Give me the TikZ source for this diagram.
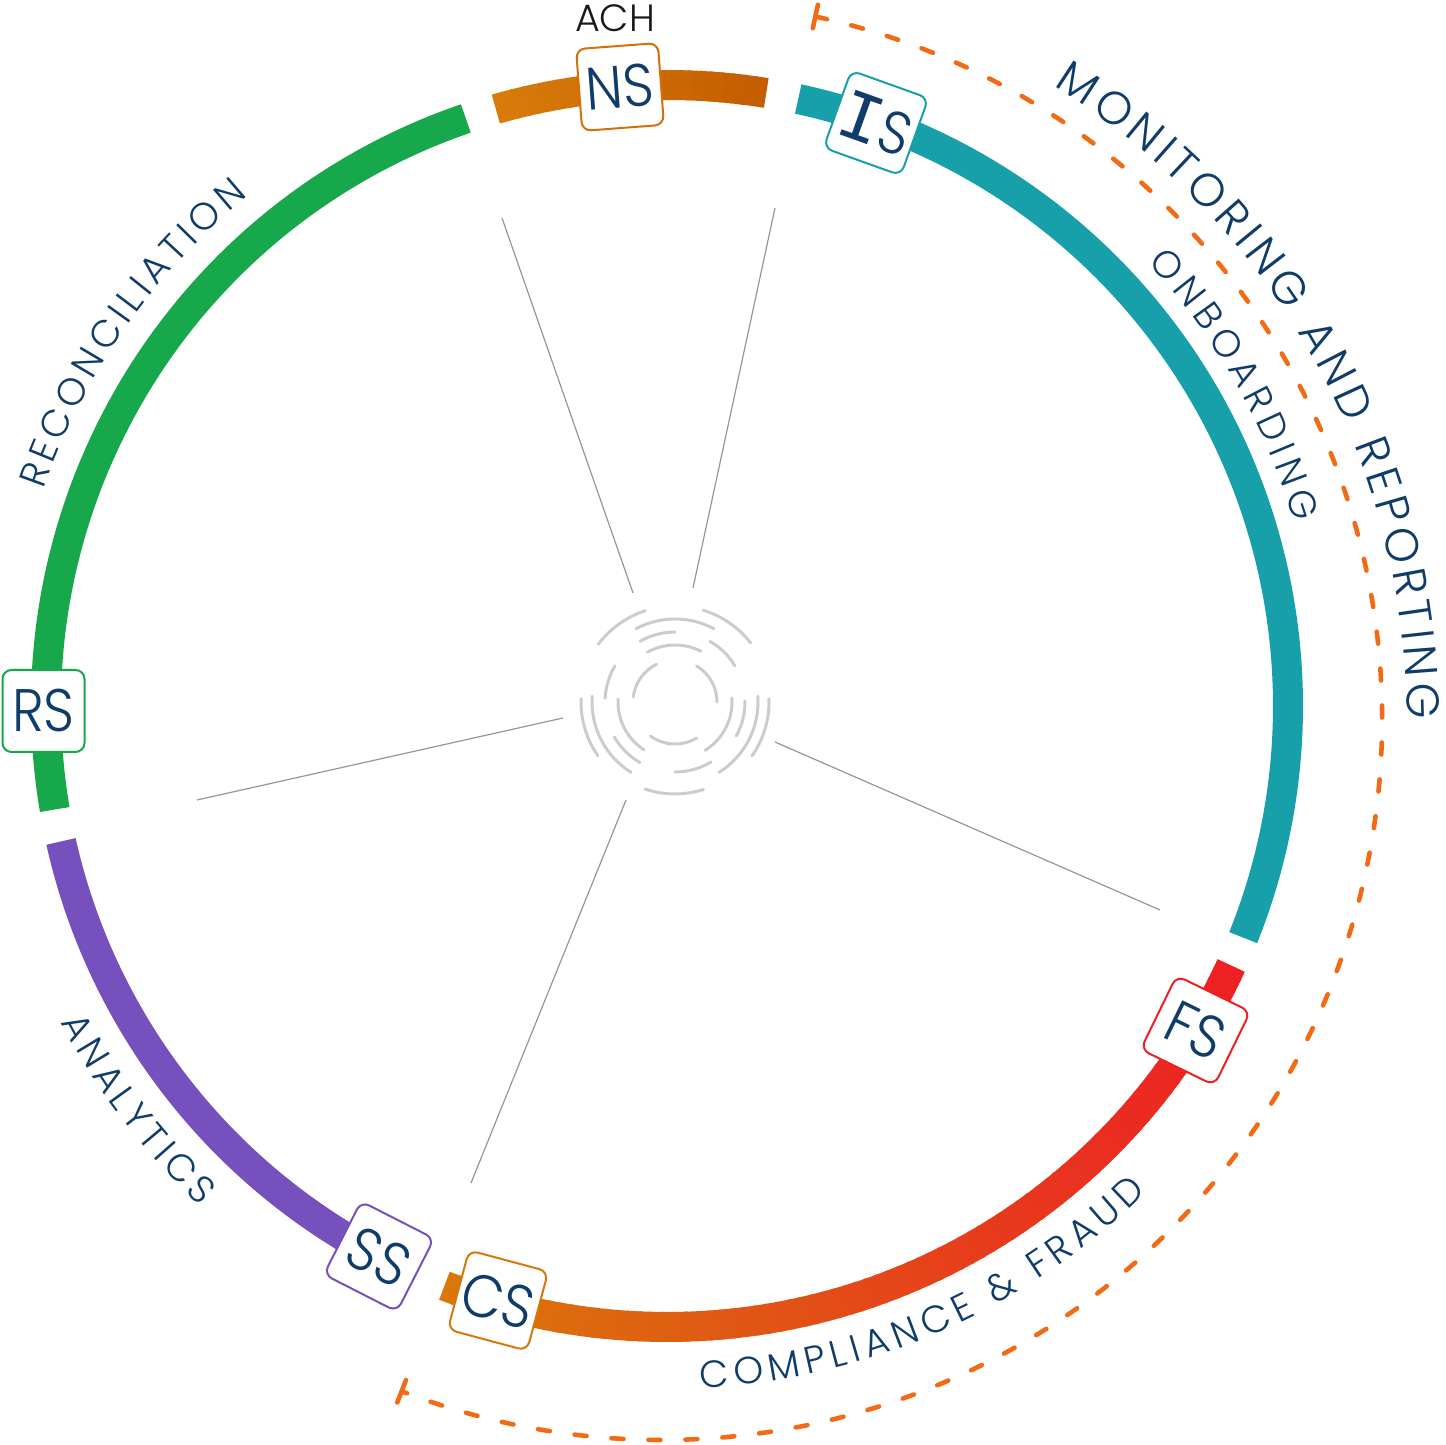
\documentclass[tikz,border=0pt]{standalone}
\usepackage{fontspec}
\setmainfont{Poppins Light}
\newfontfamily\badgefont{Poppins Light}[FakeStretch=0.9]
\newfontfamily\monoIfont{Liberation Mono}
\usetikzlibrary{decorations.text}
\definecolor{cgreen}{RGB}{23,168,75}
\definecolor{cteal}{RGB}{23,160,170}
\definecolor{cpurple}{RGB}{118,80,189}
\definecolor{cred}{RGB}{237,32,36}
\definecolor{corange}{RGB}{217,120,10}
\definecolor{nsleft}{RGB}{217,124,10}
\definecolor{nsright}{RGB}{196,92,0}
\definecolor{cns}{RGB}{212,112,10}
\definecolor{cnavy}{RGB}{15,60,105}
\definecolor{cdash}{RGB}{242,106,20}
\definecolor{cgray}{RGB}{204,204,204}
\definecolor{cspoke}{RGB}{150,150,150}
\definecolor{cach}{RGB}{25,25,25}
\newcommand\mylblfont{\fontsize{19pt}{21pt}\selectfont}
\newcommand\mymonfont{\fontsize{23pt}{26pt}\selectfont}
\newcommand\myachfont{\fontsize{19pt}{22pt}\selectfont}
\newcommand\mybadgesize{\fontsize{30pt}{32pt}\selectfont}
\begin{document}
\begin{tikzpicture}[x=0.5pt,y=0.5pt,
  badge/.style={draw, fill=white, rounded corners=4.5pt, minimum width=41pt, minimum height=41pt, inner sep=0pt, line width=1pt, text=cnavy, font=\badgefont\mybadgesize},
  seg/.style={line width=15pt},
  gring/.style={line width=1.5pt, draw=cgray, line cap=round},
  spoke/.style={line width=0.6pt, draw=cspoke},
  dashline/.style={draw=cdash, line width=2.3pt, line cap=round, dash pattern=on 6pt off 12.5pt},
  tickmark/.style={draw=cdash, line width=2.3pt, line cap=round},
  arclabel/.style={decorate, decoration={text along path, text align={fit to path}, text color=cnavy}}
]
\useasboundingbox (0,0) rectangle (1445,1445);
\coordinate (O) at (667,739);
\coordinate (D) at (662,725);
\coordinate (G) at (675,743);

% spokes
\coordinate (s1a) at (633,852); \coordinate (s1b) at (502,1227);
\coordinate (s2a) at (693,857); \coordinate (s2b) at (775,1237);
\coordinate (s3a) at (775,703); \coordinate (s3b) at (1160,535);
\coordinate (s4a) at (626,645); \coordinate (s4b) at (471,262);
\coordinate (s5a) at (563,727); \coordinate (s5b) at (197,645);
\foreach \k in {1,...,5} \draw[spoke] (s\k a) -- (s\k b);

% center gray rings
\foreach \r/\s/\e in {42/116/173, 42/0/59, 42/234/301,
  57/177/237, 57/302/364, 57/63/119,
  70/149/177, 70/210/240, 70/270/301, 70/331/361, 70/31/60, 70/90/120,
  83/176/238, 83/302/364, 83/62/118,
  94/178/215, 94/325/362, 92/251/288, 96/108/143, 96/38/73}
  \draw[gring] ([shift={(G)}]\s:\r) arc[start angle=\s, end angle=\e, radius=\r];

% ring segments
\draw[seg, cgreen] ([shift={(O)}]108.9:621) arc[start angle=108.9, end angle=189.6, radius=621];
\draw[seg, cpurple] ([shift={(O)}]192.6:621) arc[start angle=192.6, end angle=243, radius=621];
\draw[seg, cteal] ([shift={(O)}]-21.9:621) arc[start angle=-21.9, end angle=77.8, radius=621];
\foreach \i in {0,...,24}{
  \pgfmathsetmacro\a{80.8+\i*1.008}
  \pgfmathsetmacro\b{min(\a+1.3,106)}
  \pgfmathsetmacro\xm{667+621*cos(\a+0.5)}
  \pgfmathtruncatemacro\p{max(0,min(100,(\xm-495)/2.71))}
  \draw[seg, color=nsright!\p!nsleft] ([shift={(O)}]\a:621) arc[start angle=\a, end angle=\b, radius=621];
}
\foreach \i in {0,...,79}{
  \pgfmathsetmacro\a{249+\i*1.07875}
  \pgfmathsetmacro\b{min(\a+1.4,335.3)}
  \pgfmathsetmacro\xm{667+621*cos(\a+0.54)}
  \pgfmathtruncatemacro\p{max(0,min(100,(\xm-440)/7.91))}
  \draw[seg, color=cred!\p!corange] ([shift={(O)}]\a:621) arc[start angle=\a, end angle=\b, radius=621];
}

% dashed outer arc
\draw[dashline] ([shift={(D)}]77.7:720) arc[start angle=77.7, end angle=-111.2, radius=720];
\draw[tickmark] ([shift={(D)}]77.7:708) -- ([shift={(D)}]77.7:732);
\draw[tickmark] ([shift={(D)}]-111.2:708) -- ([shift={(D)}]-111.2:732);

% badges
\node[badge, draw=cns, rotate=4.3] (ns) at (620,1358) {NS};
\node[badge, draw=cteal, rotate=-19.7] (is) at (876,1322) {{\monoIfont\fontsize{36pt}{36pt}\selectfont I}S};
\node[badge, draw=cred, rotate=-26] (fs) at (1195.5,414.5) {FS};
\node[badge, draw=corange, rotate=-15] (cs) at (498,144.5) {CS};
\node[badge, draw=cpurple, rotate=-27] (ss) at (379,188.5) {SS};
\node[badge, draw=cgreen] (rs) at (43.5,734) {RS};

% labels
\node[font=\myachfont, text=cach] (ach) at (615,1427) {ACH};
\path[arclabel, decoration={text={|\mylblfont|RECONCILIATION}}] ([shift={(O)}]160.9:660) arc[start angle=160.9, end angle=129.4, radius=660];
\path[arclabel, decoration={text={|\mylblfont|ONBOARDING}}] ([shift={(O)}]42.7:654) arc[start angle=42.7, end angle=16.3, radius=654];
\path[arclabel, decoration={text={|\mymonfont|MONITORING AND REPORTING}}] ([shift={(D)}]58.3:745) arc[start angle=58.3, end angle=0.1, radius=745];
\path[arclabel, decoration={text={|\mylblfont|COMPLIANCE {\&} FRAUD}}] ([shift={(O)}]272.8:683) arc[start angle=272.8, end angle=314.6, radius=683];
\path[arclabel, decoration={text={|\mylblfont|ANALYTICS}}] ([shift={(O)}]207.6:684) arc[start angle=207.6, end angle=227, radius=684];
\end{tikzpicture}
\end{document}
